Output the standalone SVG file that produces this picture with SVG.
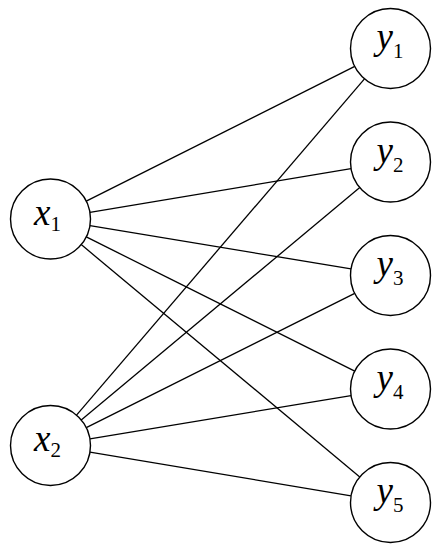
<svg xmlns="http://www.w3.org/2000/svg" width="444" height="550" viewBox="0 0 444 550">
<style>
.n{fill:#fff;stroke:#000;stroke-width:1.4}
.e line{stroke:#000;stroke-width:1.3}
.t{font-family:"Liberation Serif","DejaVu Serif",serif;font-size:37px;font-style:italic;fill:#000;text-anchor:middle}
.s{font-style:normal;font-size:21px}
</style>
<rect width="444" height="550" fill="#fff"/>
<g id="connectors" class="e">
<line x1="86.26" y1="201.07" x2="354.74" y2="66.43"/>
<line x1="89.95" y1="212.39" x2="351.05" y2="168.61"/>
<line x1="89.96" y1="225.56" x2="351.04" y2="268.94"/>
<line x1="86.28" y1="236.89" x2="354.72" y2="371.11"/>
<line x1="81.22" y1="244.62" x2="359.78" y2="476.88"/>
<line x1="76.52" y1="415.12" x2="364.48" y2="78.88"/>
<line x1="81.22" y1="419.88" x2="359.78" y2="187.62"/>
<line x1="86.28" y1="427.61" x2="354.72" y2="293.39"/>
<line x1="89.96" y1="438.94" x2="351.04" y2="395.56"/>
<line x1="89.95" y1="452.11" x2="351.05" y2="495.89"/>
</g>
<g id="x1"><circle class="n" cx="50.5" cy="219" r="40"/><text class="t" x="47.5" y="224.5">x<tspan class="s" dy="6">1</tspan></text></g>
<g id="x2"><circle class="n" cx="50.5" cy="445.5" r="40"/><text class="t" x="47.5" y="451">x<tspan class="s" dy="6">2</tspan></text></g>
<g id="y1"><circle class="n" cx="390.5" cy="48.5" r="40"/><text class="t" x="390" y="49">y<tspan class="s" dy="9">1</tspan></text></g>
<g id="y2"><circle class="n" cx="390.5" cy="162" r="40"/><text class="t" x="390" y="162.5">y<tspan class="s" dy="9">2</tspan></text></g>
<g id="y3"><circle class="n" cx="390.5" cy="275.5" r="40"/><text class="t" x="390" y="276">y<tspan class="s" dy="9">3</tspan></text></g>
<g id="y4"><circle class="n" cx="390.5" cy="389" r="40"/><text class="t" x="390" y="389.5">y<tspan class="s" dy="9">4</tspan></text></g>
<g id="y5"><circle class="n" cx="390.5" cy="502.5" r="40"/><text class="t" x="390" y="503">y<tspan class="s" dy="9">5</tspan></text></g>
</svg>
